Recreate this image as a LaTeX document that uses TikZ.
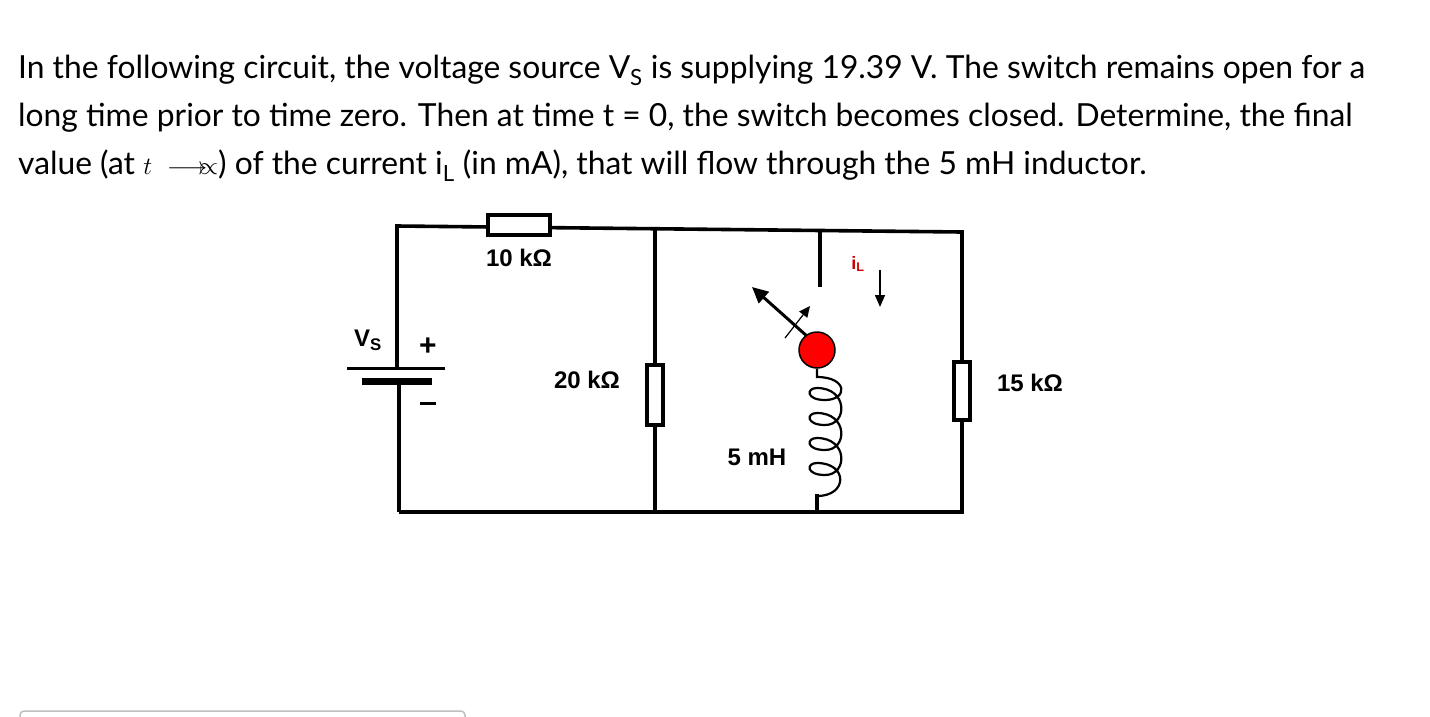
\documentclass[tikz,border=0pt]{standalone}
\usepackage{fontspec}
\setmainfont{Lato}
\newfontfamily\lab{Liberation Sans}
\usetikzlibrary{arrows.meta}
\begin{document}
\begin{tikzpicture}[x=1pt,y=-1pt,
  wire/.style={line width=3.6pt},
  txt/.style={anchor=base west,inner sep=0,font=\fontsize{31.8}{36}\selectfont},
  lbl/.style={inner sep=0,font=\lab\bfseries\fontsize{24}{26}\selectfont},
  res/.style={draw,line width=3.6pt,fill=white}]
\useasboundingbox (0,0) rectangle (1430,716);
\node[txt] (l1) at (18,78) {In the following circuit, the voltage source V\textsubscript{S} is supplying 19.39 V. The switch remains open for a};
\node[txt] (l2) at (18,126) {long time prior to time zero. Then at time t = 0, the switch becomes closed. Determine, the final};
\node[txt] (l3) at (18,174) {value (at $t\ \longrightarrow\!\!\propto$) of the current i\textsubscript{L} (in mA), that will flow through the 5 mH inductor.};
% coordinates
\coordinate (TL) at (397,226); \coordinate (T20) at (655,228); \coordinate (TS) at (820,230); \coordinate (TR) at (962,232);
\coordinate (BL) at (399,512); \coordinate (B20) at (655,512); \coordinate (BS) at (817,512); \coordinate (BR) at (962,512);
\draw[wire] (BL) -- (BR) -- (TR) -- (TL) -- (397,368);
\draw[wire] (399,381) -- (BL);
\draw[wire] (T20) -- (B20);
\draw[wire] (TS) -- (820,287);
% battery
\draw[line width=3pt] (347,368) -- (445,368);
\draw[line width=7pt] (362,381) -- (432,381);
\node[lbl] (vs) at (368,340) {V\textsubscript{S}};
\node[lbl,font=\lab\bfseries\fontsize{30}{30}\selectfont] (plus) at (428,347) {+};
\draw[line width=3pt] (420,403) -- (436,403);
% resistors
\node[res,minimum width=62pt,minimum height=20pt] (r10) at (519,225) {};
\node[lbl] (l10) at (519,258) {10 k{\lab Ω}};
\node[res,minimum width=16pt,minimum height=60pt] (r20) at (655,395) {};
\node[lbl] (l20) at (587,380) {20 k{\lab Ω}};
\node[res,minimum width=16pt,minimum height=58pt] (r15) at (962,391) {};
\node[lbl] (l15) at (1030,383) {15 k{\lab Ω}};
% switch
\draw[line width=3pt,-{Triangle[length=16pt,width=15pt]}] (808,337) -- (752,287);
\draw[line width=1.2pt,-{Triangle[length=11pt,width=10pt]}] (785,338) -- (810,306);
\node[circle,draw,line width=1.5pt,fill=red,minimum size=36pt,inner sep=0] (sw) at (817,350) {};
% inductor
\draw[line width=2.2pt] (sw.south) -- (817,377) .. controls (848,377) and (848,400) .. (825,400)
  .. controls (806,400) and (806,388) .. (817,388)
  .. controls (848,388) and (848,425) .. (825,425)
  .. controls (806,425) and (806,413) .. (817,413)
  .. controls (848,413) and (848,450) .. (825,450)
  .. controls (806,450) and (806,438) .. (817,438)
  .. controls (848,438) and (848,475) .. (825,475)
  .. controls (806,475) and (806,463) .. (817,463)
  .. controls (848,463) and (848,496) .. (817,496);
\draw[wire] (817,494) -- (BS);
\node[lbl] (l5) at (757,457) {5 mH};
\node[lbl,text=red!80!black,font=\lab\bfseries\fontsize{18}{18}\selectfont] (il) at (858,264) {i\textsubscript{L}};
\coordinate (a1) at (880,270); \coordinate (a2) at (880,307);
\draw[line width=1.5pt,-{Triangle[length=12pt,width=10pt]}] (a1) -- (a2);
% answer box
\draw[gray!50,line width=1.5pt,rounded corners=4pt] (20,730) -- (20,711) -- (465,711) -- (465,730);
\end{tikzpicture}
\end{document}
